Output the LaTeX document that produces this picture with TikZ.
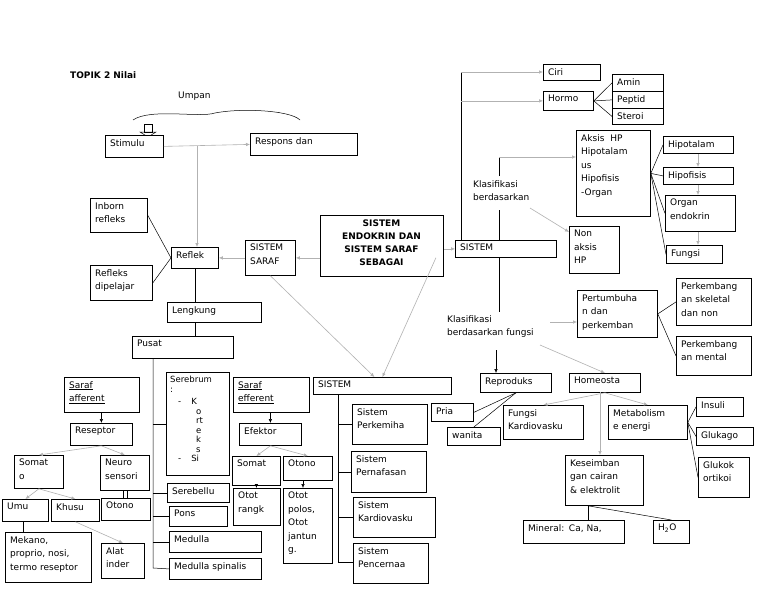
\documentclass[tikz,border=0pt]{standalone}
\usepackage{fontspec}
\setmainfont{DejaVu Sans}
\usetikzlibrary{arrows.meta,calc}
\tikzset{
 box/.style={draw=black,line width=0.8pt,inner sep=0pt,fill=white},
 txt/.style={inner sep=0pt,align=left,font=\fontsize{9}{13.5}\selectfont},
 ln/.style={draw=black,line width=0.5pt},
 gl/.style={draw=gray!60,line width=0.6pt},
 ar/.style={-{Latex[length=4pt,width=3.5pt]}},
}
\newcommand\bx[7][]{%
 \pgfmathsetmacro\bw{#5-#3}\pgfmathsetmacro\bh{#6-#4}\pgfmathsetmacro\tw{#5-#3-8}%
 \node[box,#1,minimum width=\bw pt,minimum height=\bh pt,anchor=north west] (#2) at (#3,#4) {};
 \node[txt,anchor=north west,text width=\tw pt] (#2t) at ($(#2.north west)+(5,4)$) {#7};}
\begin{document}
\begin{tikzpicture}[x=1pt,y=-1pt]
\useasboundingbox[fill=white] (0,0) rectangle (768,594);
\node[txt,anchor=west,font=\bfseries\fontsize{9}{10}\selectfont] (title) at (70,75) {TOPIK 2 Nilai};
\node[txt,anchor=west] (umpan) at (178,96) {Umpan};
\draw[ln] (133,120) .. controls (150,108) and (200,118) .. (215,113) .. controls (240,108) and (290,110) .. (300,120);
\draw[ln] (144,124) rectangle (152,132); \draw[ln] (140,132)--(148,137)--(156,132)--cycle;
% left part
\bx{stim}{105}{135}{163}{157}{Stimulu}
\bx{resp}{250}{133}{357}{155}{Respons dan}
\bx{inb}{90}{198}{147}{232}{Inborn\\refleks}
\bx{refp}{90}{265}{152}{300}{Refleks\\dipelajar}
\bx{ref}{171}{247}{218}{268}{Reflek}
\bx{ssaraf}{245}{240}{295}{275}{SISTEM\\SARAF}
\bx[line width=1.2pt]{main}{320}{215}{443}{276}{}
\node[txt,align=center,font=\bfseries\fontsize{9}{13}\selectfont] (maint) at (381.5,243) {SISTEM\\ENDOKRIN DAN\\SISTEM SARAF\\SEBAGAI};
\bx{send}{455}{240}{556}{257}{SISTEM}
\bx{leng}{167}{302}{261}{322}{Lengkung}
\bx{pusat}{132}{336}{233}{358}{Pusat}
\bx{sereb}{166}{372}{229}{475}{}
\node[txt,anchor=north west,font=\fontsize{8.5}{9.5}\selectfont] (serebt) at (170,376) {Serebrum\\:\\[3pt]\hspace*{8pt}-\hspace{10pt}K\\\hspace*{26pt}o\\\hspace*{26pt}rt\\\hspace*{26pt}e\\\hspace*{26pt}k\\\hspace*{26pt}s\\\hspace*{8pt}-\hspace{10pt}Si};
\bx{serebl}{167}{483}{229}{502}{Serebellu}
\bx{pons}{169}{506}{227}{526}{Pons}
\bx{med}{169}{531}{261}{552}{Medulla}
\bx{meds}{169}{558}{261}{579}{Medulla spinalis}
\bx{saff}{64}{377}{139}{412}{\underline{Saraf}\\\underline{afferent}}
\bx{resep}{70}{423}{132}{445}{Reseptor}
\bx{somL}{14}{455}{63}{488}{Somat\\o}
\bx{neuro}{100}{455}{149}{490}{Neuro\\sensori}
\bx{umu}{2}{499}{48}{521}{Umu}
\bx{khusu}{51}{499}{99}{521}{Khusu}
\bx{otoL}{101}{498}{150}{520}{Otono}
\bx{mek}{5}{532}{91}{582}{Mekano,\\proprio, nosi,\\termo reseptor}
\bx{alat}{101}{543}{144}{578}{Alat\\inder}
\bx{seff}{233}{377}{309}{412}{\underline{Saraf}\\\underline{efferent}}
\bx{efek}{239}{423}{301}{445}{Efektor}
\bx{somR}{232}{456}{280}{485}{Somat}
\bx{otoR}{283}{456}{332}{480}{Otono}
\bx{rangk}{233}{488}{280}{525}{Otot\\rangk}
\bx{polos}{283}{488}{332}{563}{Otot\\polos,\\Otot\\jantun\\g.}
\bx{sbot}{313}{377}{451}{394}{SISTEM}
\bx{perk}{352}{404}{427}{444}{Sistem\\Perkemiha}
\bx{pern}{351}{451}{426}{492}{Sistem\\Pernafasan}
\bx{kard}{353}{497}{435}{537}{Sistem\\Kardiovasku}
\bx{penc}{353}{543}{428}{583}{Sistem\\Pencernaa}
% right part
\bx{repro}{480}{373}{551}{392}{Reproduks}
\bx{homeo}{569}{373}{640}{392}{Homeosta}
\bx{pria}{431}{403}{473}{421}{Pria}
\bx{wan}{447}{427}{500}{445}{wanita}
\bx{fk}{503}{405}{583}{439}{Fungsi\\Kardiovasku}
\bx{meta}{608}{405}{687}{439}{Metabolism\\e energi}
\bx{ins}{696}{397}{743}{416}{Insuli}
\bx{glu}{696}{427}{753}{445}{Glukago}
\bx{gko}{698}{457}{749}{497}{Glukok\\ortikoi}
\bx{kes}{565}{455}{643}{505}{Keseimban\\gan cairan\\\& elektrolit}
\bx{min}{523}{520}{624}{543}{Mineral: Ca, Na,}
\bx{h2o}{653}{520}{689}{543}{H\textsubscript{2}O}
\bx{ciri}{543}{64}{600}{80}{Ciri}
\bx{hormo}{543}{91}{593}{110}{Hormo}
\bx{amin}{612}{74}{663}{91}{Amin}
\bx{pep}{612}{91}{663}{108}{Peptid}
\bx{ster}{612}{108}{663}{124}{Steroi}
\bx{aksis}{576}{130}{650}{216}{Aksis\ \ HP\\Hipotalam\\us\\Hipofisis\\-Organ}
\bx{hipot}{663}{136}{733}{153}{Hipotalam}
\bx{hipof}{663}{167}{733}{184}{Hipofisis}
\bx{org}{665}{195}{735}{231}{Organ\\endokrin}
\bx{fung}{666}{245}{722}{263}{Fungsi}
\bx{non}{569}{226}{619}{273}{Non\\aksis\\HP}
\bx{pert}{577}{290}{657}{337}{Pertumbuha\\n dan\\perkemban}
\bx{pskel}{676}{278}{751}{325}{Perkembang\\an skeletal\\dan non}
\bx{pment}{676}{336}{751}{375}{Perkembang\\an mental}
\node[txt,anchor=north west] (kb) at (473,180) {Klasifikasi\\berdasarkan};
\node[txt,anchor=north west] (kbf) at (447,315) {Klasifikasi\\berdasarkan fungsi};
% connectors left
\coordinate (j1) at (197,146);
\draw[gl,ar] (stim.east) -- (resp.west);
\draw[gl,ar] (j1) -- (ref.north-|j1);
\draw[ln] (inb.east) -- (ref.west); \draw[ln] (refp.east) -- (ref.west);
\draw[gl,ar] (ssaraf.west) -- (ref.east);
\draw[gl,ar] (main.west|-ssaraf) -- (ssaraf.east);
\draw[gl,ar] (main.east|-send) -- (send.west);
\draw[ln] (ref.south) -- (ref.south|-leng.north);
\draw[ln] (ref.south|-leng.south) -- (ref.south|-pusat.north);
\coordinate (pv) at (153,358); \coordinate (pvb) at (153,568);
\draw[ln] (pv) -- (pvb) -- (meds.west);
\foreach \n in {sereb,serebl,pons,med} \draw[ln] (pv|-\n.west) -- (\n.west);
\draw[ln,ar] (saff.south-|resep) -- (resep.north);
\draw[gl,ar] (resep.south) -- (somL.north); \draw[gl,ar] (resep.south) -- (neuro.north);
\draw[gl,ar] (somL.south) -- (umu.north); \draw[gl,ar] (somL.south) -- (khusu.north);
\draw[ln] ([xshift=-2]neuro.south) -- ([xshift=-2]neuro.south|-otoL.north);
\draw[ln] ([xshift=2]neuro.south) -- ([xshift=2]neuro.south|-otoL.north);
\draw[ln] (umu.south-|23,0) -- (mek.north-|23,0);
\draw[gl,ar] (khusu.south) -- (alat.north);
\draw[ln,ar] (seff.south-|efek) -- (efek.north);
\draw[gl,ar] (efek.south) -- (somR.north); \draw[gl,ar] (efek.south) -- (otoR.north);
\draw[ln,ar] (somR.south) -- (somR.south|-rangk.north);
\draw[ln,ar] (otoR.south-|303,0) -- (polos.north-|303,0);
\draw[gl,ar] (ssaraf.south) -- ([xshift=-8]sbot.north);
\draw[gl,ar] ([xshift=-70]send.south) -- ([xshift=0]sbot.north);
\coordinate (sv) at (338,394);
\draw[ln] (sv) -- (338,562) -- (penc.west|-0,562);
\foreach \n in {perk,pern,kard} \draw[ln] (sv|-\n.west) -- (\n.west);
% right connectors
\coordinate (rv) at (461,72);
\draw[ln] (send.north-|rv) -- (rv);
\draw[gl,ar] (rv) -- (ciri.west|-rv);
\draw[gl,ar] (rv|-hormo.west) -- (hormo.west);
\foreach \n in {amin,pep,ster} \draw[ln] (hormo.east) -- (\n.west);
\draw[ln] (send.north-|499,0) -- (499,210);
\draw[ln] (499,176) -- (499,157);
\draw[gl,ar] (499,157) -- (aksis.west|-0,157);
\draw[gl,ar] (530,208) -- (non.west|-0,232);
\foreach \n in {hipot,hipof,org,fung} \draw[ln] (aksis.east) -- (\n.west);
\draw[gl,ar] (hipot.south-|698,0) -- (hipof.north-|698,0);
\draw[gl,ar] (hipof.south-|698,0) -- (org.north-|698,0);
\draw[gl,ar] (org.south-|698,0) -- (fung.north-|698,0);
\draw[ln] (send.south-|499,0) -- (499,312);
\draw[gl,ar] (550,322) -- (pert.west|-0,322);
\draw[ln] (pert.east) -- (pskel.west); \draw[ln] (pert.east) -- (pment.west);
\draw[ln,ar] (496,350) -- (496,373);
\draw[gl,ar] (540,345) -- (homeo.north);
\draw[ln] (repro.south) -- (pria.east); \draw[ln] (repro.south) -- (wan.north);
\draw[gl,ar] (homeo.south) -- (fk.north); \draw[gl,ar] (homeo.south) -- (meta.north);
\draw[gl,ar] (600,392) -- (kes.north-|600,0);
\foreach \n in {ins,glu,gko} \draw[ln] (meta.east) -- (\n.west);
\draw[ln] (kes.south-|588,0) -- (min.north-|588,0);
\draw[ln] (kes.south-|588,0) -- (h2o.north);
\end{tikzpicture}
\end{document}
